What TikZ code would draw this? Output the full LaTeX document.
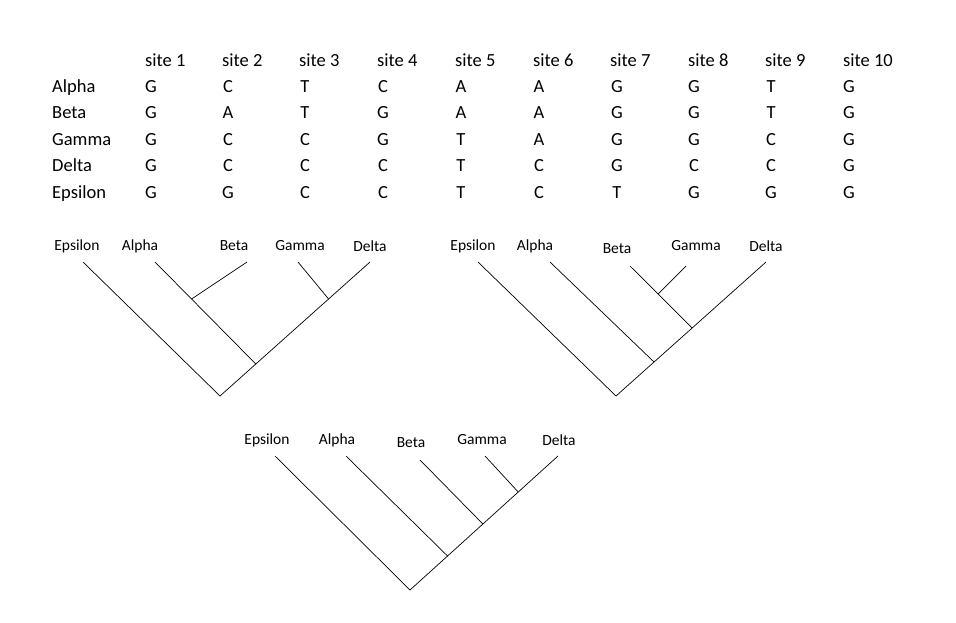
\documentclass[tikz,border=0pt]{standalone}
\usepackage{fontspec}
\setmainfont{Carlito}
\usetikzlibrary{calc}
\begin{document}
\begin{tikzpicture}[x=1pt,y=-1pt,
  tab/.style={font=\fontsize{18.5}{20}\selectfont,inner sep=0pt,anchor=base},
  lab/.style={font=\fontsize{15.5}{17}\selectfont,inner sep=0pt},
  br/.style={line width=0.7pt}]
\useasboundingbox (0,0) rectangle (956,622);
% table
\foreach \x [count=\i] in {145,222,299,377,455,533,610,688,765,843}
  \node[tab,anchor=base west] (h\i) at (\x,66) {site \i};
\foreach \nm/\y/\row [count=\r] in {Alpha/92/{G,C,T,C,A,A,G,G,T,G},Beta/118/{G,A,T,G,A,A,G,G,T,G},Gamma/145/{G,C,C,G,T,A,G,G,C,G},Delta/171/{G,C,C,C,T,C,G,C,C,G},Epsilon/198/{G,G,C,C,T,C,T,G,G,G}}{
  \node[tab,anchor=base west] (r\r) at (52,\y) {\nm};
  \foreach \b [count=\c] in \row {
    \pgfmathsetmacro{\xx}{{151,228,305,383,461,539,617,694,771,849}[\c-1]}
    \node[tab] (c\r-\c) at (\xx,\y) {\b};
  }
}
% tree 1
\node[lab] (aE) at (77,246) {Epsilon};
\node[lab] (aA) at (140,246) {Alpha};
\node[lab] (aB) at (234,246) {Beta};
\node[lab] (aG) at (300,246) {Gamma};
\node[lab] (aD) at (370,246) {Delta};
\coordinate (aRoot) at (220,396);
\coordinate (aEt) at (83,262);
\coordinate (aDt) at (370,262);
\coordinate (aAt) at (155,262);
\coordinate (aBt) at (247,262);
\coordinate (aGt) at (298,262);
\coordinate (aN1) at ($(aRoot)!0.2388!(aDt)$);
\coordinate (aN2) at ($(aRoot)!0.7239!(aDt)$);
\coordinate (aN3) at ($(aAt)!0.3627!(aN1)$);
\draw[br] (aEt) -- (aRoot) -- (aDt);
\draw[br] (aAt) -- (aN1);
\draw[br] (aBt) -- (aN3);
\draw[br] (aGt) -- (aN2);
% tree 2
\node[lab] (bE) at (473,246) {Epsilon};
\node[lab] (bA) at (535,246) {Alpha};
\node[lab] (bB) at (617,249) {Beta};
\node[lab] (bG) at (696,246) {Gamma};
\node[lab] (bD) at (766,246) {Delta};
\coordinate (bRoot) at (616,396);
\coordinate (bEt) at (478,262);
\coordinate (bDt) at (766,262);
\coordinate (bAt) at (550,262);
\coordinate (bBt) at (630,266);
\coordinate (bGt) at (686,266);
\coordinate (bN1) at ($(bRoot)!0.2537!(bDt)$);
\coordinate (bN2) at ($(bRoot)!0.5075!(bDt)$);
\coordinate (bN3) at ($(bBt)!0.4516!(bN2)$);
\draw[br] (bEt) -- (bRoot) -- (bDt);
\draw[br] (bAt) -- (bN1);
\draw[br] (bBt) -- (bN2);
\draw[br] (bGt) -- (bN3);
% tree 3
\node[lab] (cE) at (267,440) {Epsilon};
\node[lab] (cA) at (337,440) {Alpha};
\node[lab] (cB) at (411,443) {Beta};
\node[lab] (cG) at (482,440) {Gamma};
\node[lab] (cD) at (559,440) {Delta};
\coordinate (cRoot) at (410,590);
\coordinate (cEt) at (275,456);
\coordinate (cDt) at (558,456);
\coordinate (cAt) at (346,456);
\coordinate (cBt) at (420,460);
\coordinate (cGt) at (485,456);
\draw[br] (cEt) -- (cRoot) -- (cDt);
\draw[br] (cAt) -- ($(cRoot)!0.2537!(cDt)$);
\draw[br] (cBt) -- ($(cRoot)!0.4925!(cDt)$);
\draw[br] (cGt) -- ($(cRoot)!0.7313!(cDt)$);
\end{tikzpicture}
\end{document}
